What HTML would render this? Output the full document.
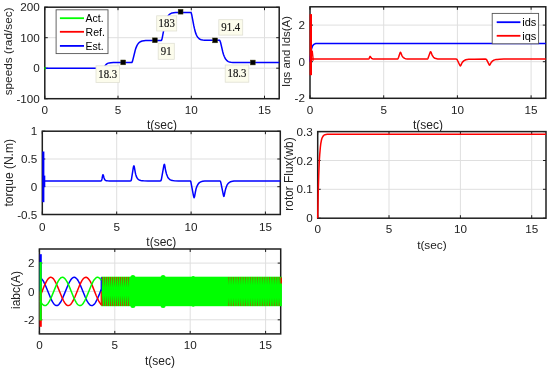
<!DOCTYPE html>
<html><head><meta charset="utf-8"><title>Simulation results</title>
<style>
html,body{margin:0;padding:0;background:#fff;}
svg{display:block;}
text{font-family:"Liberation Sans",Arial,sans-serif;fill:#222;}
.tk{font-size:11.7px;}
.lb{font-size:12px;}
.lg{font-size:10.5px;fill:#000;}
.tp{font-family:"Liberation Serif","Times New Roman",serif;font-size:11.6px;fill:#111;stroke:#111;stroke-width:0.15px;}
</style></head><body>
<svg width="550" height="370" viewBox="0 0 550 370">
<rect width="550" height="370" fill="#fff"/>
<rect x="44.8" y="7.2" width="234.4" height="91.5" fill="#fff"/>
<path d="M118 7.2V98.7M191.3 7.2V98.7M264.5 7.2V98.7M44.8 68.2H279.2M44.8 37.7H279.2" stroke="#dfdfdf" stroke-width="1" fill="none"/>
<path d="M44.8 98.7v-3M44.8 7.2v3M118 98.7v-3M118 7.2v3M191.3 98.7v-3M191.3 7.2v3M264.5 98.7v-3M264.5 7.2v3M44.8 98.7h3M279.2 98.7h-3M44.8 68.2h3M279.2 68.2h-3M44.8 37.7h3M279.2 37.7h-3M44.8 7.2h3M279.2 7.2h-3" stroke="#1f1f1f" stroke-width="1" fill="none"/>
<rect x="44.8" y="7.2" width="234.4" height="91.5" fill="none" stroke="#1f1f1f" stroke-width="1.5"/>
<path d="M44.8 68.2L103.1 68.2L103.4 68.1L103.7 67.8L105.3 65.4L106.3 64.3L106.9 63.8L107.6 63.4L108.4 63.1L109.1 62.9L110.9 62.7L113.4 62.6L131.7 62.6L131.8 62.6L132.1 62.1L132.6 60.9L134.8 52L135.3 49.9L135.9 48.1L136.5 46.6L137.2 45.1L138 43.9L138.7 43L139.7 42.1L140.9 41.5L142.2 41L144 40.7L145.7 40.6L147.9 40.5L161.3 40.4L161.4 40.4L161.6 40.1L161.9 39.4L162.3 37.6L164.2 27.7L165.2 23.2L165.8 21.1L166.4 19.4L167 18L167.7 16.6L168.4 15.5L169.3 14.5L170.2 13.8L171.2 13.3L172.4 12.9L173.7 12.7L175.5 12.5L177.7 12.4L190.9 12.4L191 12.5L191.3 13.1L191.7 14.7L193.8 25.7L194.4 28.4L195 30.7L195.5 32.6L196.3 34.6L197 36.1L197.7 37.2L198.8 38.3L199.4 38.8L199.9 39.2L201.3 39.7L202.9 40L204.6 40.2L206.8 40.3L219.6 40.3L219.7 40.4L220 40.9L220.5 42.2L222.8 52L223.5 54.5L224.3 56.5L225.1 58.3L226 59.6L227 60.7L227.6 61.1L228.4 61.6L229.5 62L231 62.3L232.8 62.5L235.1 62.6L279.2 62.6" stroke="#0000ff" stroke-width="1.5" fill="none" stroke-linejoin="round"/>
<rect x="44.3" y="67" width="1.6" height="2.4" fill="#00c000"/>
<text x="44.8" y="113.9" text-anchor="middle" font-size="11.7">0</text>
<text x="118" y="113.9" text-anchor="middle" font-size="11.7">5</text>
<text x="191.3" y="113.9" text-anchor="middle" font-size="11.7">10</text>
<text x="264.5" y="113.9" text-anchor="middle" font-size="11.7">15</text>
<text x="39.8" y="102.8" text-anchor="end" font-size="11.7">-100</text>
<text x="39.8" y="72.3" text-anchor="end" font-size="11.7">0</text>
<text x="39.8" y="41.8" text-anchor="end" font-size="11.7">100</text>
<text x="39.8" y="11.3" text-anchor="end" font-size="11.7">200</text>
<text x="162" y="129.3" text-anchor="middle" font-size="12">t(sec)</text>
<text transform="translate(12 51.4) rotate(-90)" text-anchor="middle" font-size="11.8">speeds (rad/sec)</text>
<rect x="120.8" y="60" width="4.8" height="4.8" fill="#000" stroke="#3a3a10" stroke-width="0.5"/>
<rect x="152.5" y="37.9" width="4.8" height="4.8" fill="#000" stroke="#3a3a10" stroke-width="0.5"/>
<rect x="178.2" y="9.3" width="4.8" height="4.8" fill="#000" stroke="#3a3a10" stroke-width="0.5"/>
<rect x="212.7" y="38" width="4.8" height="4.8" fill="#000" stroke="#3a3a10" stroke-width="0.5"/>
<rect x="250.4" y="60.1" width="4.8" height="4.8" fill="#000" stroke="#3a3a10" stroke-width="0.5"/>
<rect x="96" y="65.8" width="23.4" height="16.7" fill="#fcfcec" stroke="#e0e0d4" stroke-width="0.8"/>
<text x="107.7" y="78" text-anchor="middle" class="tp" textLength="18.9" lengthAdjust="spacingAndGlyphs">18.3</text>
<rect x="156.7" y="15.8" width="20" height="15.2" fill="#fcfcec" stroke="#e0e0d4" stroke-width="0.8"/>
<text x="166.7" y="27.2" text-anchor="middle" class="tp" textLength="16.2" lengthAdjust="spacingAndGlyphs">183</text>
<rect x="158.2" y="43.3" width="16.1" height="16" fill="#fcfcec" stroke="#e0e0d4" stroke-width="0.8"/>
<text x="166.2" y="55.1" text-anchor="middle" class="tp" textLength="10.8" lengthAdjust="spacingAndGlyphs">91</text>
<rect x="218.8" y="19.7" width="23.9" height="15.4" fill="#fcfcec" stroke="#e0e0d4" stroke-width="0.8"/>
<text x="230.8" y="31.2" text-anchor="middle" class="tp" textLength="18.9" lengthAdjust="spacingAndGlyphs">91.4</text>
<rect x="225.2" y="65" width="23.6" height="17.2" fill="#fcfcec" stroke="#e0e0d4" stroke-width="0.8"/>
<text x="237" y="77.4" text-anchor="middle" class="tp" textLength="18.9" lengthAdjust="spacingAndGlyphs">18.3</text>
<rect x="56.1" y="9.8" width="51.9" height="43.8" fill="#fff" stroke="#555" stroke-width="0.9"/>
<path d="M59.9 18.2H84" stroke="#00ff00" stroke-width="1.8"/>
<text x="85.6" y="21.9" class="lg">Act.</text>
<path d="M59.9 31.8H84" stroke="#ff0000" stroke-width="1.8"/>
<text x="85.6" y="35.5" class="lg">Ref.</text>
<path d="M59.9 45.9H84" stroke="#0000ff" stroke-width="1.8"/>
<text x="85.6" y="49.6" class="lg">Est.</text>
<rect x="310" y="6.8" width="235.8" height="91.5" fill="#fff"/>
<path d="M383.7 6.8V98.3M457.4 6.8V98.3M531.1 6.8V98.3M310 61.7H545.8M310 25.1H545.8" stroke="#dfdfdf" stroke-width="1" fill="none"/>
<path d="M310 98.3v-3M310 6.8v3M383.7 98.3v-3M383.7 6.8v3M457.4 98.3v-3M457.4 6.8v3M531.1 98.3v-3M531.1 6.8v3M310 98.3h3M545.8 98.3h-3M310 61.7h3M545.8 61.7h-3M310 25.1h3M545.8 25.1h-3" stroke="#1f1f1f" stroke-width="1" fill="none"/>
<rect x="310" y="6.8" width="235.8" height="91.5" fill="none" stroke="#1f1f1f" stroke-width="1.5"/>
<path d="M310 61.7L310.4 56.5L311 52.3L311.5 49.1L312.2 46.9L312.6 46L312.9 45.4L313.4 44.8L313.9 44.4L314.4 44.1L315.1 43.8L315.9 43.6L316.9 43.5L319.1 43.4L323.7 43.4L545.8 43.4" stroke="#0000ff" stroke-width="1.5" fill="none" stroke-linejoin="round"/>
<path d="M310 59.1L368.1 59.1L368.6 59L368.9 58.8L369.2 58.3L369.8 56.8L370 56.5L370.1 56.4L370.3 56.5L370.4 56.6L371.1 57.8L371.7 58.4L372.4 58.8L373.5 59.1L376.5 59.1L397.2 59.1L397.5 59.1L397.8 58.9L398.1 58.4L398.6 57.3L399.9 53.2L400.2 52.5L400.4 52.3L400.6 52.3L400.8 52.7L401.8 55.3L402.3 56.2L402.8 56.9L403.4 57.6L404 58L404.8 58.4L405.6 58.7L407.3 59L410 59.1L427 59.1L427.3 59.1L427.5 59L427.8 58.7L428 58.3L430.1 52.5L430.4 51.9L430.6 51.7L430.8 51.8L431 52.1L431.8 54.3L432.2 55.3L433.1 56.6L433.6 57.3L434.3 57.8L435 58.3L435.9 58.6L437.7 58.9L440.2 59.1L456 59.1L456.6 59.2L456.9 59.4L457.3 60L459.8 65.2L460.1 65.7L460.2 65.8L460.4 65.9L460.5 65.8L460.8 65.5L461.6 63.6L462.3 62.4L463 61.6L463.7 60.9L464.7 60.3L465.8 59.8L467.1 59.5L468.8 59.3L471 59.2L474.3 59.2L485.4 59.1L486 59.2L486.4 59.4L486.7 59.8L489.1 64.6L489.4 65.1L489.6 65.2L489.7 65.2L489.9 64.9L490.8 63.2L491.4 62.2L492.1 61.4L492.7 60.8L493.6 60.3L494.6 59.9L495.7 59.6L497.1 59.4L499.7 59.2L503.9 59.1L545.8 59.1" stroke="#ff0000" stroke-width="1.5" fill="none" stroke-linejoin="round"/>
<path d="M310.8 14.1V75.2" stroke="#ff0000" stroke-width="2.4"/>
<path d="M312.2 50.7L313 58V60.8" stroke="#ff0000" stroke-width="1.4" fill="none"/>
<text x="310" y="114" text-anchor="middle" font-size="11.7">0</text>
<text x="383.7" y="114" text-anchor="middle" font-size="11.7">5</text>
<text x="457.4" y="114" text-anchor="middle" font-size="11.7">10</text>
<text x="531.1" y="114" text-anchor="middle" font-size="11.7">15</text>
<text x="305" y="102.4" text-anchor="end" font-size="11.7">-2</text>
<text x="305" y="65.8" text-anchor="end" font-size="11.7">0</text>
<text x="305" y="29.2" text-anchor="end" font-size="11.7">2</text>
<text x="427.9" y="128.9" text-anchor="middle" font-size="12">t(sec)</text>
<text transform="translate(290.4 51.5) rotate(-90)" text-anchor="middle" font-size="11.4">Iqs and Ids(A)</text>
<rect x="492.2" y="13.4" width="46.4" height="30.4" fill="#fff" stroke="#555" stroke-width="0.9"/>
<path d="M496.7 22.2H520.4" stroke="#0000ff" stroke-width="1.8"/>
<text x="522.2" y="25.9" class="lg" style="font-size:11px">ids</text>
<path d="M496.7 35.8H520.4" stroke="#ff0000" stroke-width="1.8"/>
<text x="522.2" y="39.5" class="lg" style="font-size:11px">iqs</text>
<rect x="42.3" y="131.2" width="238" height="83.3" fill="#fff"/>
<path d="M116.7 131.2V214.5M191.1 131.2V214.5M265.4 131.2V214.5M42.3 186.7H280.3M42.3 159H280.3" stroke="#dfdfdf" stroke-width="1" fill="none"/>
<path d="M42.3 214.5v-3M42.3 131.2v3M116.7 214.5v-3M116.7 131.2v3M191.1 214.5v-3M191.1 131.2v3M265.4 214.5v-3M265.4 131.2v3M42.3 214.5h3M280.3 214.5h-3M42.3 186.7h3M280.3 186.7h-3M42.3 159h3M280.3 159h-3M42.3 131.2h3M280.3 131.2h-3" stroke="#1f1f1f" stroke-width="1" fill="none"/>
<rect x="42.3" y="131.2" width="238" height="83.3" fill="none" stroke="#1f1f1f" stroke-width="1.5"/>
<path d="M42.3 180.9L101 180.9L101.2 180.8L101.4 180.7L101.7 180.1L102 178.9L102.6 175.6L102.8 174.9L103 174.7L103.1 174.8L103.3 175.2L104 177.8L104.3 178.7L104.6 179.3L104.9 179.9L105.3 180.2L105.8 180.5L106.4 180.7L107.5 180.8L109.5 180.9L130.5 180.9L130.8 180.8L131 180.5L131.3 180L131.5 179.1L133.3 167.6L133.6 166.3L133.9 165.9L134 166L134.2 166.4L135.3 172.6L135.7 174.4L136.2 176.1L136.8 177.4L137.5 178.5L138.2 179.3L139.1 179.9L139.9 180.3L140.8 180.5L142 180.7L143.5 180.8L148 180.9L160.4 180.9L160.7 180.8L160.9 180.5L161.2 180.1L161.4 179.3L161.8 177.1L163.8 165.8L164.1 164.6L164.3 164.3L164.3 164.3L164.5 164.4L164.7 165.2L165.5 169.8L166 172L166.4 173.7L167 175.3L167.6 176.8L168.3 178L169 178.8L169.9 179.6L170.8 180L171.8 180.4L172.9 180.6L174.3 180.7L178.5 180.9L189.8 180.9L190.2 180.9L190.5 181.1L190.8 181.7L191.1 183.1L193.5 195.8L193.8 197.1L194 197.5L194.1 197.6L194.2 197.5L194.5 196.8L195.4 192L196 189.1L196.7 187L197.4 185.3L197.9 184.5L198.4 183.7L198.9 183.1L199.5 182.6L200.2 182.2L200.9 181.8L201.7 181.6L202.6 181.3L204.8 181.1L208.2 180.9L219.5 180.9L219.9 180.9L220.1 181.1L220.4 181.3L220.5 181.6L220.9 182.9L223.3 194.7L223.6 195.9L223.7 196.2L223.8 196.4L224 196.2L224.2 195.6L225.1 191.1L225.7 188.7L226.4 186.7L227 185.2L227.9 183.8L228.9 182.8L230 182L231.4 181.5L232.6 181.3L234 181.1L238.4 180.9L280.3 180.9" stroke="#0000ff" stroke-width="1.5" fill="none" stroke-linejoin="round"/>
<path d="M43.3 151.5V202.2" stroke="#0000ff" stroke-width="2.2"/>
<path d="M44.6 175.6V186.7" stroke="#0000ff" stroke-width="1.4"/>
<text x="42.3" y="230.5" text-anchor="middle" font-size="11.7">0</text>
<text x="116.7" y="230.5" text-anchor="middle" font-size="11.7">5</text>
<text x="191.1" y="230.5" text-anchor="middle" font-size="11.7">10</text>
<text x="265.4" y="230.5" text-anchor="middle" font-size="11.7">15</text>
<text x="37.3" y="218.6" text-anchor="end" font-size="11.7">-0.5</text>
<text x="37.3" y="190.8" text-anchor="end" font-size="11.7">0</text>
<text x="37.3" y="163.1" text-anchor="end" font-size="11.7">0.5</text>
<text x="37.3" y="135.3" text-anchor="end" font-size="11.7">1</text>
<text x="161.3" y="246" text-anchor="middle" font-size="12">t(sec)</text>
<text transform="translate(13 172.8) rotate(-90)" text-anchor="middle" font-size="12">torque (N.m)</text>
<rect x="317.7" y="131.6" width="228.3" height="86.6" fill="#fff"/>
<path d="M389 131.6V218.2M460.4 131.6V218.2M531.7 131.6V218.2M317.7 189.3H546M317.7 160.5H546" stroke="#dfdfdf" stroke-width="1" fill="none"/>
<path d="M317.7 218.2v-3M317.7 131.6v3M389 218.2v-3M389 131.6v3M460.4 218.2v-3M460.4 131.6v3M531.7 218.2v-3M531.7 131.6v3M317.7 218.2h3M546 218.2h-3M317.7 189.3h3M546 189.3h-3M317.7 160.5h3M546 160.5h-3M317.7 131.6h3M546 131.6h-3" stroke="#1f1f1f" stroke-width="1" fill="none"/>
<rect x="317.7" y="131.6" width="228.3" height="86.6" fill="none" stroke="#1f1f1f" stroke-width="1.5"/>
<path d="M317.7 218.2L318.2 193.4L318.7 175.9L319.3 160.8L319.7 154.9L320.1 150.3L320.4 146.8L320.8 143.5L321.3 140.8L321.8 138.8L322.4 137.3L323.1 136.1L323.6 135.6L324 135.2L325 134.7L326 134.5L327.3 134.3L332.2 134.2L546 134.2" stroke="#ff0000" stroke-width="1.5" fill="none" stroke-linejoin="round"/>
<text x="317.7" y="233.2" text-anchor="middle" font-size="11.7">0</text>
<text x="389" y="233.2" text-anchor="middle" font-size="11.7">5</text>
<text x="460.4" y="233.2" text-anchor="middle" font-size="11.7">10</text>
<text x="531.7" y="233.2" text-anchor="middle" font-size="11.7">15</text>
<text x="312.7" y="222.3" text-anchor="end" font-size="11.7">0</text>
<text x="312.7" y="193.4" text-anchor="end" font-size="11.7">0.1</text>
<text x="312.7" y="164.6" text-anchor="end" font-size="11.7">0.2</text>
<text x="312.7" y="135.7" text-anchor="end" font-size="11.7">0.3</text>
<text x="431.9" y="249" text-anchor="middle" font-size="11.8">t(sec)</text>
<text transform="translate(293 174) rotate(-90)" text-anchor="middle" font-size="11.9">rotor Flux(wb)</text>
<rect x="39.4" y="249" width="241.3" height="84.9" fill="#fff"/>
<path d="M114.8 249V333.9M190.2 249V333.9M265.6 249V333.9M39.4 319.8H280.7M39.4 291.4H280.7M39.4 263.1H280.7" stroke="#dfdfdf" stroke-width="1" fill="none"/>
<path d="M39.4 333.9v-3M39.4 249v3M114.8 333.9v-3M114.8 249v3M190.2 333.9v-3M190.2 249v3M265.6 333.9v-3M265.6 249v3M39.4 319.8h3M280.7 319.8h-3M39.4 291.4h3M280.7 291.4h-3M39.4 263.1h3M280.7 263.1h-3" stroke="#1f1f1f" stroke-width="1" fill="none"/>
<rect x="39.4" y="249" width="241.3" height="84.9" fill="none" stroke="#1f1f1f" stroke-width="1.5"/>
<path d="M40.7 254.2V319.8" stroke="#0000ff" stroke-width="2.2"/>
<path d="M40.7 291.4V326.8" stroke="#ff0000" stroke-width="2.2"/>
<path d="M40.2 277.6L41.1 278.2L42.1 279.4L43.1 280.7L44.1 282.7L46 286.7L50.3 297.3L51.3 299.7L52.4 301.7L53.5 303.4L54.4 304.5L55.3 305.2L55.8 305.4L56.2 305.6L56.7 305.6L57.3 305.5L57.8 305.3L58.4 304.9L58.8 304.5L59.4 303.8L60.5 302.3L61.6 300.4L62.8 297.8L64 294.9L67.4 286.5L68.5 284L69.4 282.2L70.5 280.3L71.4 279L72 278.4L72.5 278L72.9 277.7L73.4 277.4L74 277.3L74.4 277.3L75.1 277.5L75.7 277.8L76.1 278.2L76.7 278.8L77.4 279.5L78 280.5L79.2 282.7L80.4 285.3L84.9 296.2L86.7 300.3L87.8 302.2L88.7 303.6L89.8 304.8L90.7 305.4L91.3 305.6L91.7 305.6L92.4 305.5L93 305.2L93.4 304.9L94 304.4L94.7 303.7L95.3 302.8L96.5 300.7L97.7 298.1L99.1 294.9L101.2 289.5" stroke="#0000ff" stroke-width="1.5" fill="none" stroke-linejoin="round"/>
<path d="M40.2 296.1L44.4 285.5L45.7 282.9L46.9 280.6L47.5 279.7L48.1 278.9L48.7 278.3L49.2 277.9L49.8 277.5L50.4 277.3L50.9 277.3L51.5 277.4L51.9 277.6L52.4 277.9L52.9 278.3L53.5 278.9L54.5 280.4L55.6 282.3L56.5 284.2L57.6 286.6L61 295L62.2 297.9L63.4 300.5L64.6 302.6L65.3 303.5L65.9 304.3L66.5 304.8L66.9 305.2L67.6 305.5L68.2 305.6L68.6 305.6L69.2 305.4L70.2 304.8L70.6 304.4L71.2 303.7L72.1 302.4L73.2 300.5L74.1 298.6L75.1 296.5L79.6 285.2L80.9 282.6L81.9 280.6L83 279.1L83.6 278.4L84.1 278L84.7 277.6L85.2 277.4L85.8 277.3L86.2 277.3L86.7 277.5L87.1 277.7L87.6 278L88.2 278.6L89.3 279.9L90.4 281.7L91.3 283.5L92.4 285.9L96.3 295.7L97.9 299.2L98.8 301.1L99.5 302.4L100.5 303.7L101.2 304.6" stroke="#ff0000" stroke-width="1.5" fill="none" stroke-linejoin="round"/>
<defs><linearGradient id="sg" x1="0" y1="0" x2="0" y2="1"><stop offset="0" stop-color="#f00" stop-opacity="0.85"/><stop offset="0.17" stop-color="#d00" stop-opacity="0.42"/><stop offset="0.36" stop-color="#900" stop-opacity="0"/><stop offset="0.64" stop-color="#900" stop-opacity="0"/><stop offset="0.83" stop-color="#d00" stop-opacity="0.42"/><stop offset="1" stop-color="#f00" stop-opacity="0.85"/></linearGradient><linearGradient id="sh" x1="0" y1="0" x2="0" y2="1"><stop offset="0" stop-color="#f00" stop-opacity="0.7"/><stop offset="0.13" stop-color="#d00" stop-opacity="0.3"/><stop offset="0.28" stop-color="#900" stop-opacity="0"/><stop offset="0.72" stop-color="#900" stop-opacity="0"/><stop offset="0.87" stop-color="#d00" stop-opacity="0.3"/><stop offset="1" stop-color="#f00" stop-opacity="0.7"/></linearGradient></defs>
<rect x="101.2" y="276.7" width="180.7" height="29.5" fill="#00ff00"/>
<rect x="102" y="277" width="0.9" height="28.9" fill="url(#sg)"/>
<rect x="104" y="277" width="0.9" height="28.9" fill="url(#sg)"/>
<rect x="106" y="277" width="0.9" height="28.9" fill="url(#sg)"/>
<rect x="108" y="277" width="0.9" height="28.9" fill="url(#sg)"/>
<rect x="110" y="277" width="0.9" height="28.9" fill="url(#sg)"/>
<rect x="112" y="277" width="0.9" height="28.9" fill="url(#sg)"/>
<rect x="114" y="277" width="0.9" height="28.9" fill="url(#sg)"/>
<rect x="116" y="277" width="0.9" height="28.9" fill="url(#sg)"/>
<rect x="118" y="277" width="0.9" height="28.9" fill="url(#sg)"/>
<rect x="120" y="277" width="0.9" height="28.9" fill="url(#sg)"/>
<rect x="122" y="277" width="0.9" height="28.9" fill="url(#sg)"/>
<rect x="124" y="277" width="0.9" height="28.9" fill="url(#sg)"/>
<rect x="126" y="277" width="0.9" height="28.9" fill="url(#sg)"/>
<rect x="128" y="277" width="0.9" height="28.9" fill="url(#sg)"/>
<rect x="228.3" y="277" width="0.9" height="28.9" fill="url(#sh)"/>
<rect x="230.7" y="277" width="0.9" height="28.9" fill="url(#sh)"/>
<rect x="233.1" y="277" width="0.9" height="28.9" fill="url(#sh)"/>
<rect x="235.5" y="277" width="0.9" height="28.9" fill="url(#sh)"/>
<rect x="237.9" y="277" width="0.9" height="28.9" fill="url(#sh)"/>
<rect x="240.3" y="277" width="0.9" height="28.9" fill="url(#sh)"/>
<rect x="242.7" y="277" width="0.9" height="28.9" fill="url(#sh)"/>
<rect x="245.1" y="277" width="0.9" height="28.9" fill="url(#sh)"/>
<rect x="247.5" y="277" width="0.9" height="28.9" fill="url(#sh)"/>
<rect x="249.9" y="277" width="0.9" height="28.9" fill="url(#sh)"/>
<rect x="252.3" y="277" width="0.9" height="28.9" fill="url(#sh)"/>
<rect x="254.7" y="277" width="0.9" height="28.9" fill="url(#sh)"/>
<rect x="257.1" y="277" width="0.9" height="28.9" fill="url(#sh)"/>
<rect x="259.5" y="277" width="0.9" height="28.9" fill="url(#sh)"/>
<rect x="261.9" y="277" width="0.9" height="28.9" fill="url(#sh)"/>
<rect x="264.3" y="277" width="0.9" height="28.9" fill="url(#sh)"/>
<rect x="266.7" y="277" width="0.9" height="28.9" fill="url(#sh)"/>
<rect x="269.1" y="277" width="0.9" height="28.9" fill="url(#sh)"/>
<rect x="271.5" y="277" width="0.9" height="28.9" fill="url(#sh)"/>
<rect x="273.9" y="277" width="0.9" height="28.9" fill="url(#sh)"/>
<rect x="276.3" y="277" width="0.9" height="28.9" fill="url(#sh)"/>
<rect x="278.7" y="277" width="0.9" height="28.9" fill="url(#sh)"/>
<path d="M101.2 277.3V291.4" stroke="#0000ff" stroke-width="1.2"/>
<path d="M101.2 291.4V305.6" stroke="#ff0000" stroke-width="1.2"/>
<rect x="280.5" y="277.5" width="1.4" height="6" fill="#ff0000"/>
<rect x="130.4" y="275" width="5" height="32.9" rx="2.5" fill="#00ff00"/>
<rect x="160.6" y="275" width="5" height="32.9" rx="2.5" fill="#00ff00"/>
<rect x="191.4" y="276.1" width="3.6" height="30.7" rx="1.8" fill="#00ff00"/>
<path d="M40.2 300.7L41.1 302.3L42 303.7L42.9 304.7L43.8 305.3L44.3 305.5L44.7 305.6L45.5 305.5L46 305.4L46.4 305.1L47.3 304.3L48.1 303.4L48.9 302.2L49.6 300.9L50.4 299.3L51.9 295.9L56.1 285.6L57.1 283.3L58.2 281.2L59.4 279.3L60.5 278.2L61.1 277.7L61.7 277.4L62.4 277.3L62.8 277.3L63.3 277.4L63.9 277.7L64.3 278.1L65 278.7L66 280.1L67.1 281.9L68 283.7L69.1 286.1L73.8 297.8L75.1 300.4L76.3 302.6L76.9 303.5L77.5 304.2L78.1 304.8L78.6 305.1L79.2 305.4L79.6 305.6L80.1 305.6L80.7 305.5L81.2 305.3L81.6 305L82.1 304.6L82.7 304L83.6 302.7L84.7 300.9L85.6 299L86.7 296.6L90.4 287.5L91.7 284.3L93.3 281.2L94 280L94.7 279.2L95.6 278.2L96.3 277.6L97.1 277.3L97.9 277.3L98.6 277.6L99.5 278.2L100.3 279L101.2 280.3" stroke="#00ff00" stroke-width="1.5" fill="none" stroke-linejoin="round"/>
<path d="M40.7 262V320.5" stroke="#00ff00" stroke-width="2.2"/>
<text x="39.4" y="348.7" text-anchor="middle" font-size="11.7">0</text>
<text x="114.8" y="348.7" text-anchor="middle" font-size="11.7">5</text>
<text x="190.2" y="348.7" text-anchor="middle" font-size="11.7">10</text>
<text x="265.6" y="348.7" text-anchor="middle" font-size="11.7">15</text>
<text x="34.4" y="323.9" text-anchor="end" font-size="11.7">-2</text>
<text x="34.4" y="295.6" text-anchor="end" font-size="11.7">0</text>
<text x="34.4" y="267.2" text-anchor="end" font-size="11.7">2</text>
<text x="160" y="364.8" text-anchor="middle" font-size="12">t(sec)</text>
<text transform="translate(20 290) rotate(-90)" text-anchor="middle" font-size="12">iabc(A)</text>
</svg>
</body></html>
